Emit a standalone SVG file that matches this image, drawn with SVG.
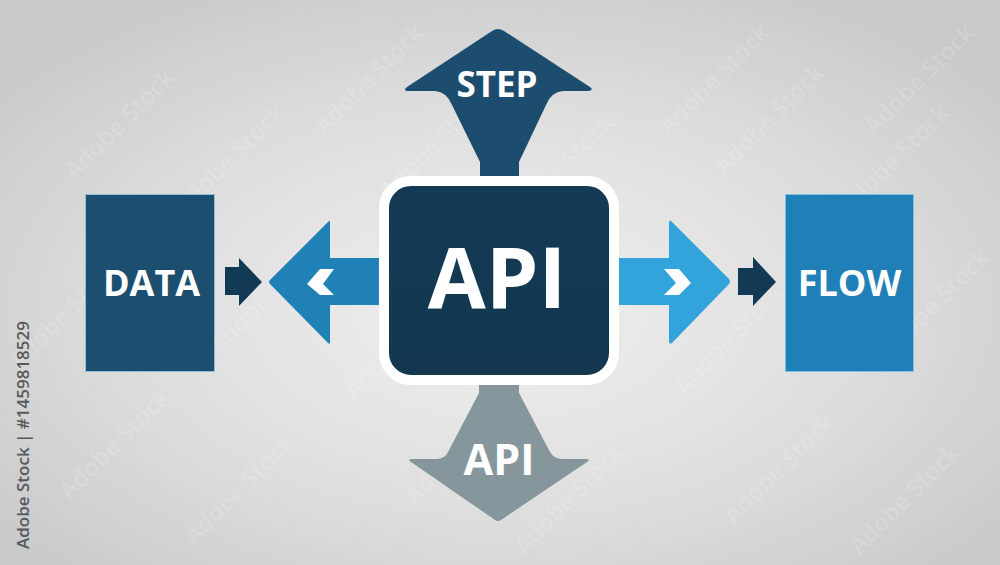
<svg xmlns="http://www.w3.org/2000/svg" width="1000" height="565" viewBox="0 0 1000 565">
<style>
text{font-family:"Open Sans","Liberation Sans",sans-serif;font-weight:700;fill:#fff;text-anchor:middle}
.wm{font-size:24px;font-weight:600;fill:#fff;fill-opacity:.16}
.side{font-size:17px;font-weight:600;fill:#555a5e;text-anchor:start}
.lbl{font-size:36px}
</style>
<defs>
<radialGradient id="bg" cx="50%" cy="55%" r="65%"><stop offset="0" stop-color="#f0f0f0"/><stop offset=".55" stop-color="#dedede"/><stop offset="1" stop-color="#c8c9ca"/></radialGradient>
<linearGradient id="core" x1="0" y1="0" x2="0" y2="1"><stop offset="0" stop-color="#143a56"/><stop offset="1" stop-color="#12374f"/></linearGradient>
</defs>
<rect id="background" width="1000" height="565" fill="url(#bg)"/>
<g id="watermarks">
<text class="wm" transform="translate(125 130) rotate(-45)">Adobe Stock</text>
<text class="wm" transform="translate(235 165) rotate(-45)">Adobe Stock</text>
<text class="wm" transform="translate(375 85) rotate(-45)">Adobe Stock</text>
<text class="wm" transform="translate(440 150) rotate(-45)">Adobe Stock</text>
<text class="wm" transform="translate(565 175) rotate(-45)">Adobe Stock</text>
<text class="wm" transform="translate(720 85) rotate(-45)">Adobe Stock</text>
<text class="wm" transform="translate(775 125) rotate(-45)">Adobe Stock</text>
<text class="wm" transform="translate(900 165) rotate(-45)">Adobe Stock</text>
<text class="wm" transform="translate(925 85) rotate(-45)">Adobe Stock</text>
<text class="wm" transform="translate(120 450) rotate(-45)">Adobe Stock</text>
<text class="wm" transform="translate(245 495) rotate(-45)">Adobe Stock</text>
<text class="wm" transform="translate(405 350) rotate(-45)">Adobe Stock</text>
<text class="wm" transform="translate(465 455) rotate(-45)">Adobe Stock</text>
<text class="wm" transform="translate(575 505) rotate(-45)">Adobe Stock</text>
<text class="wm" transform="translate(610 325) rotate(-45)">Adobe Stock</text>
<text class="wm" transform="translate(735 345) rotate(-45)">Adobe Stock</text>
<text class="wm" transform="translate(785 475) rotate(-45)">Adobe Stock</text>
<text class="wm" transform="translate(910 505) rotate(-45)">Adobe Stock</text>
<text class="wm" transform="translate(940 310) rotate(-45)">Adobe Stock</text>
<text class="wm" transform="translate(70 320) rotate(-45)">Adobe Stock</text>
<text class="wm" transform="translate(270 305) rotate(-45)">Adobe Stock</text>
</g>
<text class="side" transform="translate(29 549) rotate(-90)">Adobe Stock | #1459818529</text>
<g id="connectors">
<path id="arrow-step" d="M480 176V162L452 105Q447 92 435 91L407 91Q403 90 407 87L492 31Q498 27 504 31L590 87Q594 90 589 91L563 91Q551 92 546 105L519 162V176Z" fill="#1d4d6e"/>
<path id="arrow-left" d="M379 258H330V222Q330 220 328 222L270 280Q268 282 270 284L328 343Q330 345 330 342V305H379Z" fill="#2081b6"/>
<path id="arrow-right" d="M619 258H669V222Q670 219 672 222L729 279Q731 282 729 284L672 343Q670 345 669 342V305H619Z" fill="#33a4db"/>
<path id="arrow-api" d="M479 384V393L448 452Q445 459 436 459H412Q407 459 411 462L495 520Q498 522 501 520L587 462Q591 459 586 459H562Q554 459 550 452L519 393V384Z" fill="#85979d"/>
<path id="small-left" d="M225 267H239V258L262 282L239 306V295H225Z" fill="#133a55"/>
<path id="small-right" d="M738 268H753V257L776 282L753 306V295H738Z" fill="#133a55"/>
<path id="chevron-left" d="M307 284L320 269H334L323 284L334 295H320Z" fill="#fff"/>
<path id="chevron-right" d="M664 269H679L691 283L679 295H664L676 283Z" fill="#fff"/>
</g>
<g id="node-data"><rect x="85.500" y="194.500" width="129" height="177" fill="#1b4e6f" stroke="#8cc0d8" stroke-width="1"/><text class="lbl" x="151.500" y="296">DATA</text></g>
<g id="node-flow"><rect x="785.500" y="194.500" width="128" height="177" fill="#1f80b7" stroke="#7cc1e2" stroke-width="1"/><text class="lbl" x="849.500" y="296">FLOW</text></g>
<g id="node-step"><text x="497" y="96.500" font-size="35">STEP</text></g>
<g id="node-api-down"><text x="499" y="475" font-size="43">API</text></g>
<g id="node-api"><rect x="384" y="181" width="230" height="199" rx="27" fill="url(#core)" stroke="#fff" stroke-width="10"/><text x="497" y="308" font-size="84">API</text></g>
</svg>
